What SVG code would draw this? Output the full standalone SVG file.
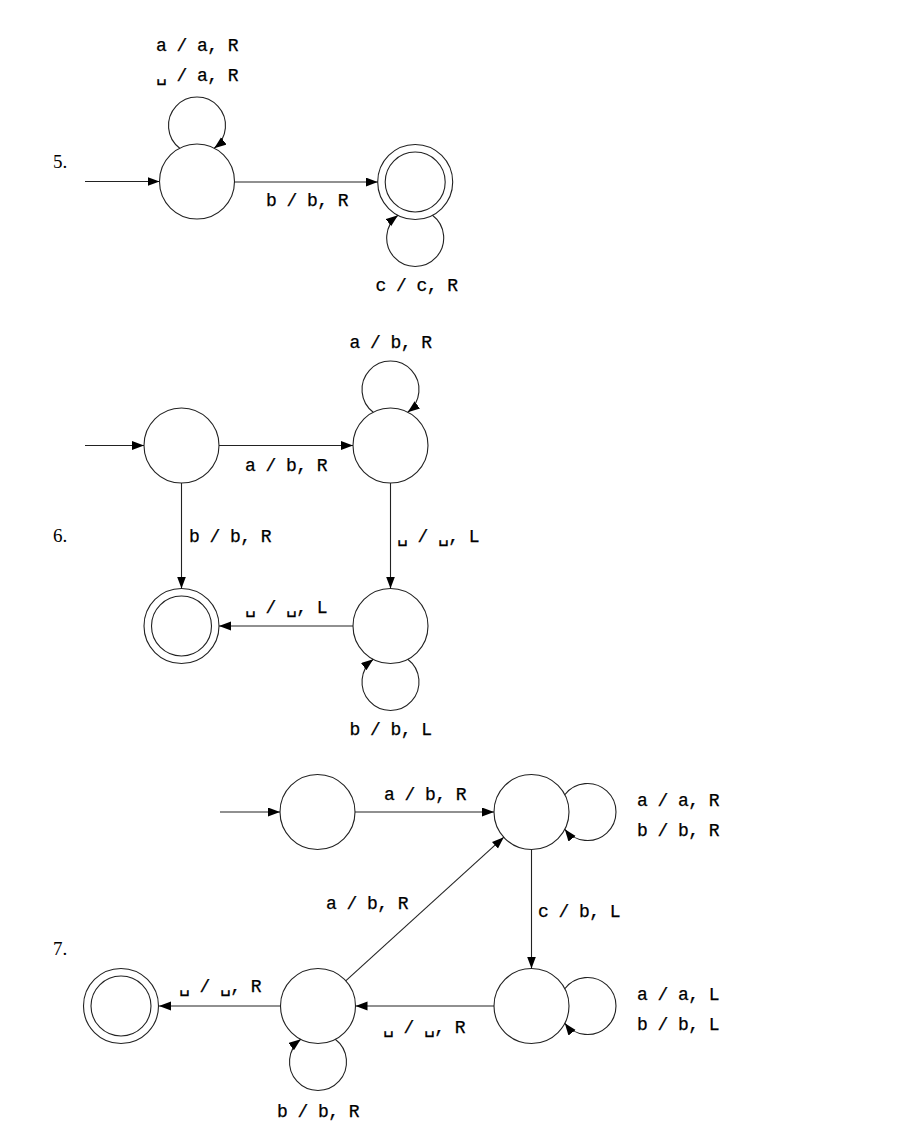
<svg xmlns="http://www.w3.org/2000/svg" width="912" height="1146" viewBox="0 0 912 1146">
<style>
.n{fill:none;stroke:#222;stroke-width:1.1}
.e{fill:none;stroke:#222;stroke-width:1.1;marker-end:url(#ah)}
.t{font-family:"Liberation Mono","DejaVu Sans Mono",monospace;font-size:18px;letter-spacing:-0.55px;fill:#000;stroke:#000;stroke-width:0.25}
.m{text-anchor:middle}
.num{font-family:"Liberation Serif","DejaVu Serif",serif;font-size:19px;fill:#000}
</style>
<defs>
<marker id="ah" markerUnits="userSpaceOnUse" markerWidth="13" markerHeight="10" refX="12" refY="4.5" orient="auto">
<path d="M0,0 L12,4.5 L0,9 z" fill="#000"/>
</marker>
</defs>
<rect width="912" height="1146" fill="#fff"/>

<text class="num" x="53" y="168">5.</text>
<text class="num" x="53" y="542">6.</text>
<text class="num" x="53" y="955">7.</text>

<!-- Diagram 5 -->
<g id="d5-q0"><circle class="n" cx="197" cy="181.5" r="37.5"/></g>
<g id="d5-qf"><circle class="n" cx="415.2" cy="182" r="37.5"/><circle class="n" cx="415.2" cy="182" r="30"/></g>

<!-- Diagram 6 -->
<g id="d6-q0"><circle class="n" cx="181.5" cy="445.5" r="37.5"/></g>
<g id="d6-q1"><circle class="n" cx="390.5" cy="445.5" r="37.5"/></g>
<g id="d6-qf"><circle class="n" cx="181.5" cy="626" r="37.5"/><circle class="n" cx="181.5" cy="626" r="30"/></g>
<g id="d6-q2"><circle class="n" cx="390.5" cy="626" r="37.5"/></g>

<!-- Diagram 7 -->
<g id="d7-q0"><circle class="n" cx="317.5" cy="812" r="37.5"/></g>
<g id="d7-q1"><circle class="n" cx="531.5" cy="812" r="37.5"/></g>
<g id="d7-q2"><circle class="n" cx="531.5" cy="1006" r="37.5"/></g>
<g id="d7-q3"><circle class="n" cx="318" cy="1006" r="37.5"/></g>
<g id="d7-qf"><circle class="n" cx="121" cy="1006" r="37.5"/><circle class="n" cx="121" cy="1006" r="30"/></g>

<g id="connectors">
<!-- 5 -->
<line class="e" x1="85" y1="181.5" x2="159.5" y2="181.5"/>
<line class="e" x1="234.5" y1="182" x2="377.7" y2="182"/>
<path class="e" d="M179.76,148.2 A28.5,28.5 0 1 1 214.24,148.2"/>
<path class="e" d="M432.44,215.3 A28.5,28.5 0 1 1 397.96,215.3"/>
<!-- 6 -->
<line class="e" x1="85" y1="445.5" x2="144" y2="445.5"/>
<line class="e" x1="219" y1="445.5" x2="353" y2="445.5"/>
<line class="e" x1="181.5" y1="483" x2="181.5" y2="588.5"/>
<line class="e" x1="390.5" y1="483" x2="390.5" y2="588.5"/>
<line class="e" x1="353" y1="626" x2="219" y2="626"/>
<path class="e" d="M373.26,412.2 A28.5,28.5 0 1 1 407.74,412.2"/>
<path class="e" d="M407.74,659.3 A28.5,28.5 0 1 1 373.26,659.3"/>
<!-- 7 -->
<line class="e" x1="220" y1="812" x2="280" y2="812"/>
<line class="e" x1="355" y1="812" x2="494" y2="812"/>
<line class="e" x1="531.5" y1="849.5" x2="531.5" y2="968.5"/>
<line class="e" x1="494" y1="1006" x2="355.5" y2="1006"/>
<line class="e" x1="280.5" y1="1006" x2="159" y2="1006"/>
<line class="e" x1="345.7" y1="980.8" x2="503.8" y2="837.2"/>
<path class="e" d="M564.8,794.76 A28.5,28.5 0 1 1 564.8,829.24"/>
<path class="e" d="M564.8,988.76 A28.5,28.5 0 1 1 564.8,1023.24"/>
<path class="e" d="M335.24,1039.3 A28.5,28.5 0 1 1 300.76,1039.3"/>
</g>

<g id="labels">
<text class="t m" x="197" y="51">a / a, R</text>
<text class="t m" x="197" y="81">␣ / a, R</text>
<text class="t m" x="307" y="206">b / b, R</text>
<text class="t m" x="416.5" y="291">c / c, R</text>

<text class="t m" x="390.5" y="348">a / b, R</text>
<text class="t m" x="286" y="471">a / b, R</text>
<text class="t" x="189" y="542">b / b, R</text>
<text class="t" x="397" y="542">␣ / ␣, L</text>
<text class="t m" x="286" y="613">␣ / ␣, L</text>
<text class="t m" x="390.5" y="735">b / b, L</text>

<text class="t m" x="425" y="800">a / b, R</text>
<text class="t" x="637" y="806">a / a, R</text>
<text class="t" x="637" y="836">b / b, R</text>
<text class="t" x="538" y="917">c / b, L</text>
<text class="t m" x="367" y="909">a / b, R</text>
<text class="t" x="637" y="1000">a / a, L</text>
<text class="t" x="637" y="1030">b / b, L</text>
<text class="t m" x="424" y="1033">␣ / ␣, R</text>
<text class="t m" x="220" y="992">␣ / ␣, R</text>
<text class="t m" x="318" y="1117">b / b, R</text>
</g>
</svg>
